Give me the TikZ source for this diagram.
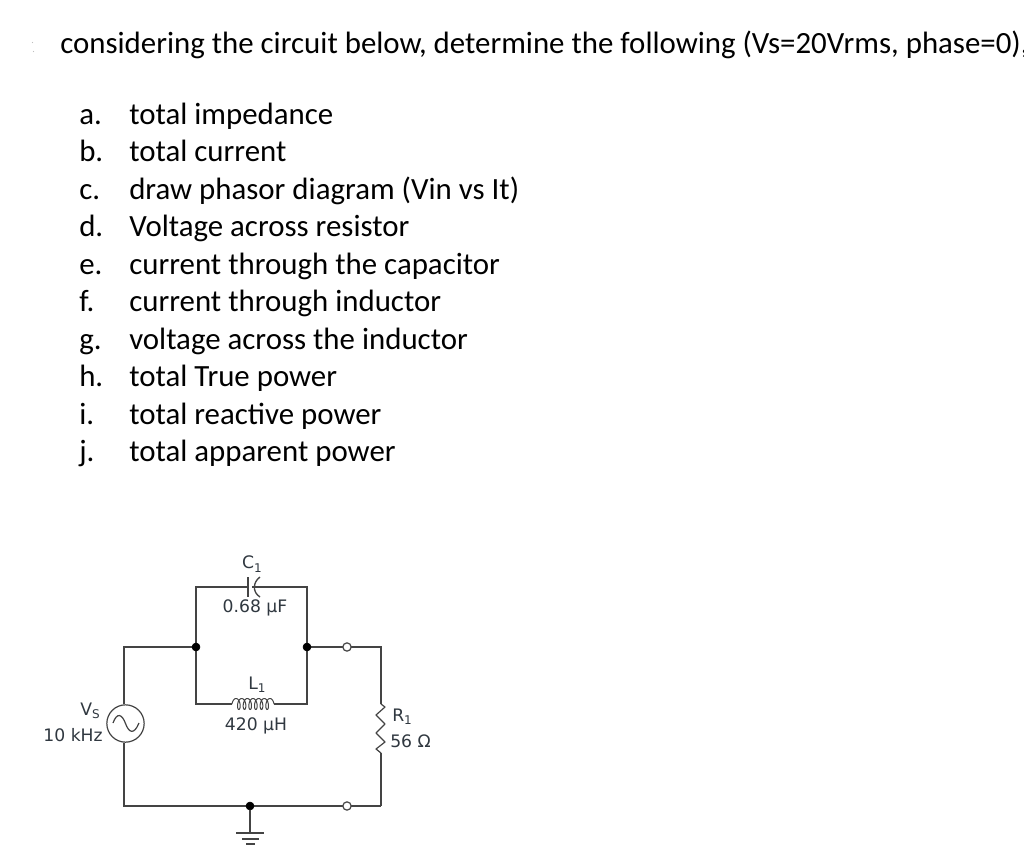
\documentclass[tikz,border=0pt]{standalone}
\usepackage{fontspec}
\setmainfont{Carlito}
\newfontfamily\cktfont{DejaVu Sans}
\definecolor{wirec}{HTML}{444444}
\definecolor{lblc}{HTML}{303840}
\newcommand{\subs}[1]{\raisebox{-2.5pt}{\fontsize{9}{10}\selectfont #1}}
\tikzset{
  qtext/.style={anchor=base west,inner sep=0pt,text=black,font=\fontsize{23.15}{26}\selectfont},
  wire/.style={draw=wirec,line width=1.1pt},
  dot/.style={circle,fill=black,draw=black,inner sep=0pt,minimum size=6pt},
  opent/.style={circle,fill=white,draw=wirec,line width=0.9pt,inner sep=0pt,minimum size=6.2pt},
  lbl/.style={inner sep=0pt,text=lblc,font=\cktfont\fontsize{12.9}{14}\selectfont},
  src/.style={circle,draw=wirec,line width=0.9pt,fill=white,inner sep=0pt,minimum size=28pt},
  speck/.style={fill=black!25}
}
\begin{document}
\begin{tikzpicture}[x=0.75pt,y=-0.75pt]
\useasboundingbox (0,0) rectangle (1024,867);
\fill[white] (0,0) rectangle (1024,867);
% faint specks left of the title
\fill[speck] (32.5,42.5) circle (0.5pt);
\fill[speck] (33.5,51.5) circle (0.5pt);
% question text
\node[qtext] (title) at (60,54) {considering the circuit below, determine the following (Vs=20Vrms, phase=0),};
\foreach \n/\lab/\txt/\yy in {
 a/a./total impedance/124,
 b/b./total current/161.5,
 c/c./draw phasor diagram (Vin vs It)/199,
 d/d./Voltage across resistor/236.5,
 e/e./current through the capacitor/274,
 f/f./current through inductor/311.5,
 g/g./voltage across the inductor/349,
 h/h./total True power/386.5,
 i/i./total reactive power/424,
 j/j./total apparent power/461.5}{
  \node[qtext] (lab\n) at (79,\yy) {\lab};
  \node[qtext] (item\n) at (129,\yy) {\txt};
}
% junctions and corners
\coordinate (tl) at (124,647);
\coordinate (bl) at (124,806);
\coordinate (capl) at (196,587);
\coordinate (capr) at (307,587);
\coordinate (indl) at (196,704);
\coordinate (indr) at (307,704);
\coordinate (tr) at (381,647);
\coordinate (br) at (381,806);
\coordinate (capa) at (248,587);
\coordinate (capb) at (252,587);
\coordinate (coila) at (232,704);
\coordinate (coilb) at (274,704);
\coordinate (resa) at (381,704);
\coordinate (resb) at (381,753);
\coordinate (gnda) at (250,833);
\node[src] (vs) at (125.5,723.5) {};
% wires
\draw[wire] (tl |- vs.north) -- (tl) -- (196,647);
\draw[wire] (bl |- vs.south) -- (bl) -- (br);
\draw[wire] (capa) -- (capl) -- (indl) -- (coila);
\draw[wire] (capb) -- (capr) -- (indr) -- (coilb);
\draw[wire] (307,647) -- (tr) -- (resa);
\draw[wire] (resb) -- (br);
% nodes on wires
\node[dot] (j1) at (196,647) {};
\node[dot] (j2) at (307,647) {};
\node[dot] (j3) at (250,806) {};
\node[opent] (o1) at (347,647) {};
\node[opent] (o2) at (347,806) {};
% source wave
\draw[draw=wirec,line width=0.9pt] (113,723) .. controls (117,712) and (122,714) .. (125.5,723.5) .. controls (129,733) and (134,735) .. (139,723);
% capacitor
\draw[draw=wirec,line width=1pt] (248,577) -- (248,597);
\draw[draw=wirec,line width=1pt] (260,577) .. controls (253,582) and (252,592) .. (260,597);
% inductor: six loops
\draw[draw=wirec,line width=0.75pt] plot[samples=160,domain=0:2340,variable=\t]
  ({232+\t/2340*36.8+2.6*(1-cos(\t))},{704-5.5*sin(\t)});
% resistor
\draw[draw=wirec,line width=0.9pt,line join=round] (resa) -- (385,707) -- (376,715) -- (385,724) -- (376,733) -- (385,742) -- (376,749) -- (resb);
% ground
\draw[wire] (j3) -- (gnda);
\draw[wire] (236,833) -- (264,833);
\draw[wire] (242,839) -- (259,839);
\draw[wire] (246,844) -- (255,844);
% labels
\node[lbl] (c1) at (252,564) {C\subs{1}};
\node[lbl] (c1v) at (255,608) {0.68 µF};
\node[lbl] (l1) at (257,685) {L\subs{1}};
\node[lbl] (l1v) at (256,725.5) {420 µH};
\node[lbl,anchor=east] (vsn) at (100,711) {V\subs{S}};
\node[lbl,anchor=east] (vsv) at (103,735) {10 kHz};
\node[lbl,anchor=west] (r1) at (392,717) {R\subs{1}};
\node[lbl,anchor=west] (r1v) at (390,741) {56 Ω};
\end{tikzpicture}
\end{document}
